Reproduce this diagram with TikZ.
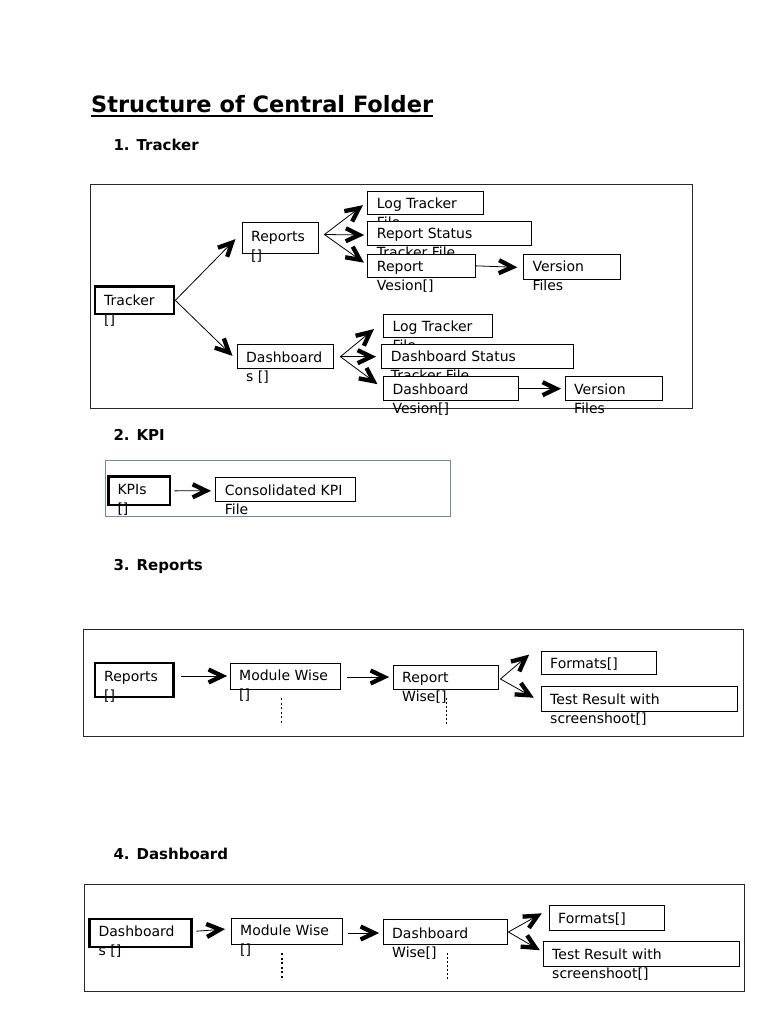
\documentclass[tikz,border=0pt]{standalone}
\usepackage{fontspec}
\setmainfont{DejaVu Sans}
\usetikzlibrary{fit,calc,decorations.markings}
\definecolor{kpiframe}{RGB}{118,134,166}
\definecolor{framegray}{RGB}{40,40,40}
\tikzset{
  thinbox/.style={draw, fill=white, inner sep=0pt, line width=0.8pt},
  thickbox/.style={draw, fill=white, inner sep=0pt, line width=2.6pt},
  frame/.style={draw=framegray, inner sep=0pt, line width=0.9pt},
  kpibox/.style={draw=kpiframe, inner sep=0pt, line width=1pt},
  lbl/.style={inner sep=0pt, font=\fontsize{14}{19}\selectfont},
  head/.style={inner sep=0pt, font=\bfseries\fontsize{15}{18}\selectfont},
  arr/.style={line width=0.8pt, postaction={decorate},
    decoration={markings, mark=at position 1 with {
      \draw[line width=4.3pt, line join=miter, line cap=butt, solid]
        (-17pt,6.5pt) -- (-3.5pt,0pt) -- (-17pt,-6.5pt);}}},
  dotA/.style={line width=1.5pt, dash pattern=on 2pt off 2.5pt},
  dotB/.style={line width=0.8pt, dash pattern=on 2pt off 2pt}
}
% \bx[style]{name}{x1}{y1}{x2}{y2}{baseline}{line1}{line2}
\newcommand{\bx}[9][thinbox]{%
  \node[#1, fit={(#3,#4) (#5,#6)}] (#2) {};
  \node[lbl, anchor=base west] (#2-a) at (#3+9,#7) {#8};
  \node[lbl, anchor=base west] (#2-b) at (#3+9,#7+19) {#9};
}
\begin{document}
\begin{tikzpicture}[x=1pt,y=-1pt]
\useasboundingbox (0,0) rectangle (768,1024);
\fill[white] (0,0) rectangle (768,1024);

% title
\node[inner sep=0pt, anchor=base west, font=\bfseries\fontsize{22.5}{26}\selectfont] (title) at (91,113) {Structure of Central Folder};
\draw[line width=1.8pt] ([yshift=-3.3pt]title.base west) -- ([yshift=-3.3pt]title.base east);

% ---------- 1. Tracker
\node[head, anchor=base west] (h1) at (113.3,151) {1. Tracker};
\node[frame, fit={(90.7,184) (692.7,408)}] (f1) {};

\bx[thickbox]{trk}{95}{286.7}{174}{314}{305}{Tracker}{[]}
\bx{rep}{242}{222}{318}{253}{241.7}{Reports}{[]}
\bx{dsh}{237}{344}{333}{368}{362.7}{Dashboard}{s []}

\bx{logR}{367.7}{191.7}{483}{214}{208.3}{Log Tracker}{File}
\bx{statR}{367.7}{221.7}{531.7}{245.7}{239}{Report Status}{Tracker File}
\bx{vesR}{367.7}{254}{475.3}{277.7}{271.7}{Report}{Vesion[]}
\bx{verR}{523.3}{254}{620}{279}{271.7}{Version}{Files}

\bx{logD}{383.3}{314}{492.3}{337.3}{331}{Log Tracker}{File}
\bx{statD}{381.7}{344.3}{573.3}{368.3}{361.7}{Dashboard Status}{Tracker File}
\bx{vesD}{383.3}{376.7}{518.3}{400.7}{394.3}{Dashboard}{Vesion[]}
\bx{verD}{565}{376.7}{662.3}{400.7}{394.3}{Version}{Files}

\draw[arr] (trk.east) -- ([shift={(-7,2.5)}]rep.west);
\draw[arr] (trk.east) -- ([shift={(-5,-1)}]dsh.west);

\coordinate (fanR) at ([shift={(6,-3)}]rep.east);
\draw[arr] (fanR) -- ([shift={(-5.5,3.2)}]logR.west);
\draw[arr] (fanR) -- ([shift={(-4.5,1.3)}]statR.west);
\draw[arr] (fanR) -- ([shift={(-4.5,-4)}]vesR.west);

\coordinate (fanD) at ([shift={(7,0.7)}]dsh.east);
\draw[arr] (fanD) -- ([shift={(-10,4.3)}]logD.west);
\draw[arr] (fanD) -- ([shift={(-6.7,0.4)}]statD.west);
\draw[arr] (fanD) -- ([shift={(-6.6,-5.4)}]vesD.west);

\draw[arr] (vesR.east) -- ([shift={(-7,0.8)}]verR.west);
\draw[arr] (vesD.east) -- ([xshift=-5pt]verD.west);

% ---------- 2. KPI
\node[head, anchor=base west] (h2) at (113.3,440.7) {2. KPI};
\node[kpibox, fit={(105.7,460.7) (450,516.7)}] (f2) {};
\bx[thickbox]{kpi}{108.3}{476.7}{170}{505}{494}{KPIs}{[]}
\bx{con}{215.7}{477.3}{355}{501.7}{495}{Consolidated KPI}{File}
\draw[arr] ([xshift=3pt]kpi.east) -- ([shift={(-5.7,1.3)}]con.west);

% ---------- 3. Reports
\node[head, anchor=base west] (h3) at (113.3,570) {3. Reports};
\node[frame, fit={(83.4,629.5) (743,736.5)}] (f3) {};
\bx[thickbox]{rep3}{95}{663}{173.6}{697}{681}{Reports}{[]}
\bx{mod3}{230}{663}{340.5}{689}{680}{Module Wise}{[]}
\bx{rw3}{393}{665}{498}{689}{682.5}{Report}{Wise[]}
\bx{fmt3}{541}{651}{656}{674}{668}{Formats[]}{}
\bx{tst3}{541}{686}{737.5}{711}{704.5}{Test Result with}{screenshoot[]}

\draw[arr] ([shift={(6,-4)}]rep3.east) -- ([xshift=-4pt]mod3.west);
\draw[arr] ([shift={(6.5,1)}]mod3.east) -- ([xshift=-5pt]rw3.west);
\coordinate (fan3) at ([shift={(2,2)}]rw3.east);
\draw[arr] (fan3) -- ([shift={(-12.5,-7)}]fmt3.west);
\draw[arr] (fan3) -- ([shift={(-8,-1.5)}]tst3.west);
\draw[dotA] ([shift={(-4,9)}]mod3.south) -- ++(0,27);
\draw[dotB] ([shift={(0.5,9)}]rw3.south) -- ++(0,27);

% ---------- 4. Dashboard
\node[head, anchor=base west] (h4) at (113.3,859) {4. Dashboard};
\node[frame, fit={(84,884.5) (744,991.5)}] (f4) {};
\bx[thickbox]{dsh4}{89.4}{919}{191.6}{947}{936.5}{Dashboard}{s []}
\bx{mod4}{231}{918}{342}{944}{935}{Module Wise}{[]}
\bx{dw4}{383}{919}{507}{944}{938.5}{Dashboard}{Wise[]}
\bx{fmt4}{549}{905}{664.5}{930}{923}{Formats[]}{}
\bx{tst4}{543}{941}{739}{966}{959.5}{Test Result with}{screenshoot[]}

\draw[arr] ([shift={(3.4,-1.8)}]dsh4.east) -- ([shift={(-7,-1.8)}]mod4.west);
\draw[arr] ([shift={(6,2)}]mod4.east) -- ([shift={(-5,1.5)}]dw4.west);
\coordinate (fan4) at ([shift={(1,0.5)}]dw4.east);
\draw[arr] (fan4) -- ([shift={(-8,-3.5)}]fmt4.west);
\draw[arr] (fan4) -- ([shift={(-4,-4)}]tst4.west);
\draw[dotA] ([shift={(-4.5,9)}]mod4.south) -- ++(0,27);
\draw[dotB] ([shift={(2,9)}]dw4.south) -- ++(0,27);
\end{tikzpicture}
\end{document}
